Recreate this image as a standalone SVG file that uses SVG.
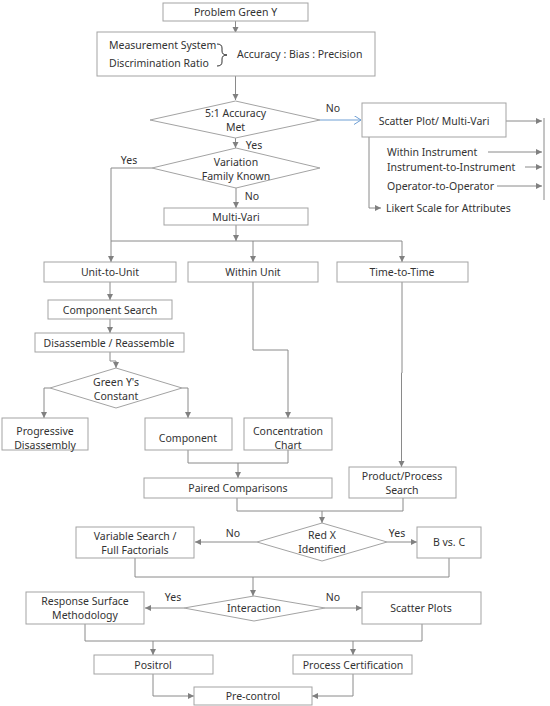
<svg xmlns="http://www.w3.org/2000/svg" width="550" height="706" viewBox="0 0 550 706">
<defs>
<style>
.box{fill:#fff;stroke:#a3a3a3;stroke-width:1}
.ln{fill:none;stroke:#8a8a8a;stroke-width:1}
.t{font-family:"Noto Sans","Open Sans",sans-serif;font-size:10.5px;fill:#333;text-anchor:middle}
.l{text-anchor:start}
</style>
<marker id="a" markerUnits="userSpaceOnUse" markerWidth="7" markerHeight="7" refX="6" refY="3" orient="auto">
<path d="M0,0 L6,3 L0,6 z" fill="#808080"/>
</marker>
<marker id="b" markerUnits="userSpaceOnUse" markerWidth="9" markerHeight="10" refX="7" refY="4.5" orient="auto">
<path d="M0,0 L7,4.5 L0,9" fill="none" stroke="#6f9fd4" stroke-width="1"/>
</marker>
</defs>
<rect width="550" height="706" fill="#fff"/>

<g id="connectors">
<path class="ln" d="M235.5,21 V33" marker-end="url(#a)"/>
<path class="ln" d="M235.5,76 V100" marker-end="url(#a)"/>
<path d="M320,120 H361" fill="none" stroke="#6f9fd4" stroke-width="1" marker-end="url(#b)"/>
<path class="ln" d="M235.5,138 V148" marker-end="url(#a)"/>
<path class="ln" d="M236,188 V208" marker-end="url(#a)"/>
<path class="ln" d="M152,168 H111 V262" marker-end="url(#a)"/>
<path class="ln" d="M236,225 V241" marker-end="url(#a)"/>
<path class="ln" d="M111,241 H402"/>
<path class="ln" d="M253,241 V262" marker-end="url(#a)"/>
<path class="ln" d="M402,241 V262" marker-end="url(#a)"/>
<path class="ln" d="M506,121 H542" marker-end="url(#a)"/>
<path class="ln" d="M544,118 V200"/>
<path class="ln" d="M488,152 H542" marker-end="url(#a)"/>
<path class="ln" d="M525,167 H542" marker-end="url(#a)"/>
<path class="ln" d="M497,186 H542" marker-end="url(#a)"/>
<path class="ln" d="M369,137 V208 H381" marker-end="url(#a)"/>
<path class="ln" d="M110,282 V300" marker-end="url(#a)"/>
<path class="ln" d="M110,319 V333" marker-end="url(#a)"/>
<path class="ln" d="M110,352 V361 H116 V368" marker-end="url(#a)"/>
<path class="ln" d="M50,388 H44 V418" marker-end="url(#a)"/>
<path class="ln" d="M182,388 H188 V418" marker-end="url(#a)"/>
<path class="ln" d="M253,282 V350 H288 V418" marker-end="url(#a)"/>
<path class="ln" d="M402,282 V373 H401.5 V467" marker-end="url(#a)"/>
<path class="ln" d="M188,449 V463 H288 V449"/>
<path class="ln" d="M238,463 V478" marker-end="url(#a)"/>
<path class="ln" d="M237,498 V511 H403 V498"/>
<path class="ln" d="M322,511 V523" marker-end="url(#a)"/>
<path class="ln" d="M257,542 H195" marker-end="url(#a)"/>
<path class="ln" d="M387,542 H417" marker-end="url(#a)"/>
<path class="ln" d="M135,558 V577 H449 V558"/>
<path class="ln" d="M253,577 V596" marker-end="url(#a)"/>
<path class="ln" d="M184,608 H145" marker-end="url(#a)"/>
<path class="ln" d="M325,608 H362" marker-end="url(#a)"/>
<path class="ln" d="M85,624 V641 H422 V624"/>
<path class="ln" d="M153,641 V655" marker-end="url(#a)"/>
<path class="ln" d="M353,641 V655" marker-end="url(#a)"/>
<path class="ln" d="M153,674 V696 H194" marker-end="url(#a)"/>
<path class="ln" d="M353,674 V696 H312" marker-end="url(#a)"/>
</g>

<g id="problem-green-y"><rect class="box" x="163" y="3" width="145" height="18"/><text class="t" x="235.5" y="16">Problem Green Y</text></g>

<g id="measurement"><rect class="box" x="97" y="32" width="278" height="44"/>
<text class="t l" x="109" y="49">Measurement System</text>
<text class="t l" x="109" y="67">Discrimination Ratio</text>
<path d="M217,44 Q222,44 222,48 V51 Q222,55 227,55 Q222,55 222,59 V62 Q222,66 217,66" fill="none" stroke="#333" stroke-width="1"/>
<text class="t l" x="237" y="58">Accuracy : Bias : Precision</text></g>

<g id="accuracy-met"><polygon class="box" points="235.5,101 320,120 235.5,138 150,120"/>
<text class="t" x="235.5" y="117">5:1 Accuracy</text><text class="t" x="235.5" y="131">Met</text></g>
<text class="t" x="333" y="112">No</text>
<text class="t" x="254" y="149">Yes</text>

<g id="scatter-multivari"><rect class="box" x="362" y="103" width="144" height="34"/><text class="t" x="434" y="125">Scatter Plot/ Multi-Vari</text></g>
<g id="mv-items">
<text class="t l" x="387" y="156">Within Instrument</text>
<text class="t l" x="387" y="171">Instrument-to-Instrument</text>
<text class="t l" x="387" y="190">Operator-to-Operator</text>
<text class="t l" x="386" y="212">Likert Scale for Attributes</text>
</g>

<g id="variation-known"><polygon class="box" points="236,148 320,168 236,188 152,168"/>
<text class="t" x="236" y="166">Variation</text><text class="t" x="236" y="180">Family Known</text></g>
<text class="t" x="129" y="164">Yes</text>
<text class="t" x="252" y="200">No</text>

<g id="multi-vari"><rect class="box" x="164" y="208" width="144" height="17"/><text class="t" x="236" y="220.5">Multi-Vari</text></g>

<g id="unit-to-unit"><rect class="box" x="44" y="262" width="132" height="20"/><text class="t" x="110" y="276">Unit-to-Unit</text></g>
<g id="within-unit"><rect class="box" x="188" y="262" width="130" height="20"/><text class="t" x="253" y="276">Within Unit</text></g>
<g id="time-to-time"><rect class="box" x="337" y="262" width="131" height="20"/><text class="t" x="402" y="276">Time-to-Time</text></g>

<g id="component-search"><rect class="box" x="48" y="300" width="124" height="19"/><text class="t" x="110" y="313.5">Component Search</text></g>
<g id="disassemble"><rect class="box" x="35" y="333" width="149" height="19"/><text class="t" x="109" y="346.5">Disassemble / Reassemble</text></g>

<g id="green-y-constant"><polygon class="box" points="116,368 182,388 116,408 50,388"/>
<text class="t" x="116" y="386">Green Y's</text><text class="t" x="116" y="400">Constant</text></g>

<g id="progressive"><rect class="box" x="2" y="418" width="86" height="32"/><text class="t" x="45" y="435">Progressive</text><text class="t" x="45" y="449">Disassembly</text></g>
<g id="component"><rect class="box" x="145" y="418" width="87" height="32"/><text class="t" x="188" y="442">Component</text></g>
<g id="concentration"><rect class="box" x="244" y="418" width="88" height="32"/><text class="t" x="288" y="435">Concentration</text><text class="t" x="288" y="449">Chart</text></g>

<g id="paired"><rect class="box" x="144" y="478" width="188" height="20"/><text class="t" x="238" y="492">Paired Comparisons</text></g>
<g id="product-process"><rect class="box" x="349" y="467" width="107" height="31"/><text class="t" x="402" y="480">Product/Process</text><text class="t" x="402" y="494">Search</text></g>

<g id="red-x"><polygon class="box" points="322,523 387,542 322,561 257,542"/>
<text class="t" x="322" y="539">Red X</text><text class="t" x="322" y="553">Identified</text></g>
<text class="t" x="233" y="537">No</text>
<text class="t" x="397" y="537">Yes</text>

<g id="variable-search"><rect class="box" x="76" y="527" width="118" height="31"/><text class="t" x="135" y="540">Variable Search /</text><text class="t" x="135" y="554">Full Factorials</text></g>
<g id="b-vs-c"><rect class="box" x="417" y="527" width="64" height="31"/><text class="t" x="449" y="546">B vs. C</text></g>

<g id="interaction"><polygon class="box" points="254,596 325,608 254,621 184,608"/>
<text class="t" x="254" y="612">Interaction</text></g>
<text class="t" x="173" y="601">Yes</text>
<text class="t" x="333" y="601">No</text>

<g id="rsm"><rect class="box" x="26" y="592" width="118" height="32"/><text class="t" x="85" y="605">Response Surface</text><text class="t" x="85" y="619">Methodology</text></g>
<g id="scatter-plots"><rect class="box" x="362" y="592" width="119" height="32"/><text class="t" x="421" y="612">Scatter Plots</text></g>

<g id="positrol"><rect class="box" x="94" y="655" width="119" height="19"/><text class="t" x="153" y="668.5">Positrol</text></g>
<g id="process-cert"><rect class="box" x="293" y="655" width="119" height="19"/><text class="t" x="353" y="668.5">Process Certification</text></g>
<g id="pre-control"><rect class="box" x="194" y="687" width="118" height="18"/><text class="t" x="253" y="700">Pre-control</text></g>
</svg>
